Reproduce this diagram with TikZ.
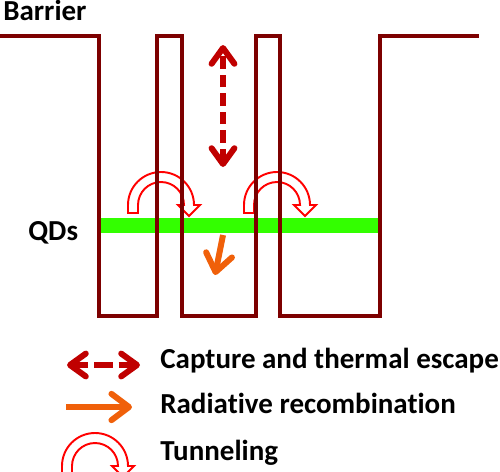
\documentclass[tikz,border=0pt]{standalone}
\usepackage{fontspec}
\setmainfont{Carlito}[Ligatures=NoCommon]
\usetikzlibrary{arrows.meta}
\definecolor{wellred}{RGB}{125,0,0}
\definecolor{capred}{RGB}{192,0,0}
\definecolor{radorange}{RGB}{240,96,10}
\definecolor{tunred}{RGB}{255,0,0}
\definecolor{qdgreen}{RGB}{51,255,0}
\tikzset{
  wellline/.style={draw=wellred, line width=2pt},
  qdbar/.style={draw=qdgreen, line width=8.5pt},
  capline/.style={draw=capred, line width=3.4pt, dash pattern=on 7pt off 3.5pt,
    {Straight Barb[round, length=9pt, width=13pt]}-{Straight Barb[round, length=9pt, width=13pt]}},
  radline/.style={draw=radorange, line width=3.4pt, -{Straight Barb[round, length=10pt, width=15pt]}},
  lbl/.style={inner sep=0pt, anchor=base west, font=\fontsize{16.5}{19}\selectfont\bfseries},
  tunnel/.pic={
    \draw[tunred, line width=1.1pt, line join=miter]
      (-33,-8) -- (-33,0) arc[start angle=180, end angle=0, radius=33]
      -- (39,0) -- (28,-11) -- (17,0) -- (23,0)
      arc[start angle=0, end angle=180, radius=23] -- (-23,-8) -- cycle;
  }
}
\begin{document}
\begin{tikzpicture}[x=0.02cm, y=0.02cm]
  \useasboundingbox (0,0) rectangle (500,471);
  \clip (0,0) rectangle (500,471);
  \draw[qdbar] (99,245.5) -- (380,245.5);
  \pic at (161,266) {tunnel};
  \pic at (277,266) {tunnel};
  \draw[wellline] (0,435) -- (99,435) -- (99,155) -- (157,155) -- (157,435)
    -- (182,435) -- (182,155) -- (256,155) -- (256,435) -- (280,435)
    -- (280,155) -- (380,155) -- (380,435) -- (479,435);
  \coordinate (captop) at (223,426);
  \coordinate (capbot) at (223,304);
  \draw[capline] (capbot) -- (captop);
  \coordinate (radstart) at (223,236);
  \coordinate (radend) at (215,196);
  \draw[radline] (radstart) -- (radend);
  \node[lbl] (barrier) at (3,451) {Barrier};
  \node[lbl] (qds) at (28,231) {QDs};
  \coordinate (keycapl) at (67,106);
  \coordinate (keycapr) at (140,106);
  \draw[capline, dash pattern=on 8.5pt off 3.5pt on 10.5pt off 3.5pt on 20pt] (keycapl) -- (keycapr);
  \node[lbl] (keycap) at (160,103) {Capture and thermal escape};
  \coordinate (keyradl) at (66,64);
  \coordinate (keyradr) at (132,64);
  \draw[radline] (keyradl) -- (keyradr);
  \node[lbl] (keyrad) at (160,58) {Radiative recombination};
  \pic at (95,5) {tunnel};
  \node[lbl] (keytun) at (160,11) {Tunneling};
\end{tikzpicture}
\end{document}
